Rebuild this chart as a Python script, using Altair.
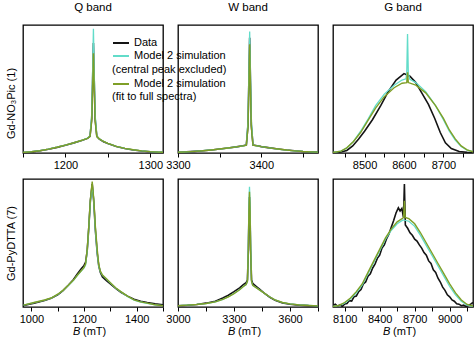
import altair as alt
import pandas as pd

FONT = "Liberation Sans"
C_DATA = "#141414"
C_EXCL = "#62dcc9"
C_FULL = "#7f9f27"

# ---------------- Top row: Gd-NO3Pic (1) ----------------
# Q band
tq_B = [1150, 1160, 1170, 1180, 1190, 1200, 1210, 1220, 1226, 1229, 1231, 1232, 1233,
        1234, 1235, 1237, 1240, 1245, 1250, 1260, 1270, 1280, 1290, 1300, 1310, 1315]
tq_data = [0.004, 0.009, 0.017, 0.029, 0.044, 0.061, 0.079, 0.099, 0.114, 0.13, 0.27, 0.55, 0.86,
           0.55, 0.27, 0.13, 0.108, 0.088, 0.074, 0.051, 0.035, 0.024, 0.016, 0.01, 0.006, 0.005]
tq_excl = [0.005, 0.01, 0.018, 0.03, 0.045, 0.062, 0.08, 0.1, 0.116, 0.132, 0.3, 0.62, 0.97,
           0.62, 0.3, 0.132, 0.11, 0.09, 0.075, 0.052, 0.036, 0.025, 0.017, 0.011, 0.007, 0.006]
tq_full = [0.005, 0.01, 0.018, 0.03, 0.045, 0.062, 0.08, 0.1, 0.115, 0.13, 0.25, 0.5, 0.78,
           0.5, 0.25, 0.13, 0.11, 0.09, 0.075, 0.052, 0.036, 0.025, 0.017, 0.011, 0.007, 0.006]

# W band
tw_B = [3300, 3310, 3320, 3330, 3340, 3350, 3360, 3370, 3378, 3382, 3384, 3385, 3386, 3387,
        3388, 3390, 3395, 3400, 3410, 3420, 3430, 3440, 3450, 3460, 3468]
tw_data = [0.006, 0.009, 0.013, 0.018, 0.024, 0.031, 0.039, 0.048, 0.056, 0.062, 0.22, 0.55, 0.9, 0.55,
           0.22, 0.062, 0.056, 0.05, 0.04, 0.031, 0.023, 0.017, 0.012, 0.009, 0.007]
tw_excl = [0.006, 0.009, 0.013, 0.018, 0.024, 0.031, 0.039, 0.048, 0.056, 0.062, 0.25, 0.6, 0.95, 0.6,
           0.25, 0.062, 0.056, 0.05, 0.04, 0.031, 0.023, 0.017, 0.012, 0.009, 0.007]
tw_full = [0.006, 0.009, 0.013, 0.018, 0.024, 0.031, 0.039, 0.048, 0.056, 0.062, 0.2, 0.5, 0.85, 0.5,
           0.2, 0.062, 0.056, 0.05, 0.04, 0.031, 0.023, 0.017, 0.012, 0.009, 0.007]

# G band
tg_B_data = [8420, 8440, 8455, 8470, 8485, 8500, 8520, 8541, 8560, 8580, 8600, 8615, 8630, 8645,
             8662, 8678, 8692, 8705, 8720, 8740, 8760, 8775]
tg_data = [0.003, 0.008, 0.02, 0.055, 0.11, 0.17, 0.26, 0.37, 0.48, 0.57, 0.62, 0.60, 0.55, 0.47,
           0.38, 0.27, 0.16, 0.08, 0.035, 0.012, 0.005, 0.003]
tg_B_excl = [8420, 8440, 8455, 8472, 8490, 8510, 8528, 8550, 8575, 8595, 8605, 8607, 8609, 8611,
             8615, 8630, 8655, 8680, 8700, 8715, 8730, 8745, 8760, 8775]
tg_excl = [0.004, 0.014, 0.04, 0.09, 0.17, 0.27, 0.37, 0.46, 0.53, 0.57, 0.58, 0.62, 0.93, 0.62,
           0.575, 0.55, 0.48, 0.37, 0.26, 0.17, 0.1, 0.05, 0.022, 0.01]
tg_B_full = [8420, 8440, 8455, 8472, 8490, 8510, 8528, 8550, 8575, 8595, 8607, 8609, 8611, 8630,
             8655, 8680, 8700, 8715, 8730, 8745, 8760, 8775]
tg_full = [0.004, 0.015, 0.04, 0.09, 0.16, 0.26, 0.35, 0.44, 0.51, 0.545, 0.55, 0.63, 0.55, 0.53,
           0.47, 0.37, 0.27, 0.18, 0.11, 0.055, 0.025, 0.01]

# ---------------- Bottom row: Gd-PyDTTA (7) ----------------
bq_B = [970, 1010, 1050, 1075, 1100, 1120, 1140, 1160, 1175, 1190, 1200, 1206, 1212, 1218, 1224, 1231,
        1237, 1243, 1250, 1256, 1262, 1270, 1285, 1300, 1320, 1340, 1365, 1390, 1415, 1440, 1470, 1500]
bq_data = [0.012, 0.03, 0.05, 0.068, 0.095, 0.128, 0.17, 0.215, 0.26, 0.3, 0.325, 0.35, 0.44, 0.62, 0.83, 0.96,
           0.82, 0.6, 0.42, 0.32, 0.27, 0.235, 0.205, 0.18, 0.145, 0.115, 0.085, 0.06, 0.045, 0.035, 0.025, 0.018]
bq_excl = [0.015, 0.034, 0.054, 0.069, 0.098, 0.128, 0.168, 0.208, 0.248, 0.283, 0.305, 0.33, 0.44, 0.62, 0.82, 0.95,
           0.82, 0.6, 0.42, 0.32, 0.275, 0.248, 0.218, 0.188, 0.148, 0.118, 0.083, 0.054, 0.039, 0.029, 0.017, 0.01]
bq_full = [0.015, 0.035, 0.055, 0.07, 0.1, 0.13, 0.17, 0.21, 0.25, 0.285, 0.31, 0.34, 0.45, 0.63, 0.84, 0.98,
           0.84, 0.63, 0.45, 0.33, 0.28, 0.25, 0.22, 0.19, 0.15, 0.12, 0.085, 0.055, 0.04, 0.03, 0.018, 0.01]

bw_B = [3000, 3050, 3100, 3150, 3200, 3240, 3270, 3300, 3330, 3350, 3365, 3372, 3377, 3380, 3383,
        3386, 3389, 3394, 3400, 3420, 3440, 3460, 3490, 3520, 3560, 3600, 3650, 3700, 3750]
bw_data = [0.01, 0.014, 0.02, 0.03, 0.045, 0.07, 0.092, 0.12, 0.15, 0.175, 0.19, 0.21, 0.45, 0.72, 0.86,
           0.72, 0.45, 0.21, 0.185, 0.16, 0.135, 0.11, 0.078, 0.052, 0.032, 0.022, 0.015, 0.011, 0.009]
bw_excl = [0.01, 0.015, 0.02, 0.027, 0.04, 0.06, 0.08, 0.105, 0.135, 0.16, 0.175, 0.2, 0.5, 0.8, 0.94,
           0.8, 0.5, 0.2, 0.17, 0.15, 0.13, 0.11, 0.08, 0.055, 0.035, 0.024, 0.016, 0.012, 0.009]
bw_full = [0.01, 0.015, 0.02, 0.027, 0.04, 0.06, 0.08, 0.105, 0.135, 0.16, 0.175, 0.2, 0.45, 0.75, 0.9,
           0.75, 0.45, 0.2, 0.17, 0.15, 0.13, 0.11, 0.08, 0.055, 0.035, 0.024, 0.016, 0.012, 0.009]

bg_B_data = [8000, 8020, 8040, 8060, 8080, 8100, 8120, 8140, 8160, 8180, 8200, 8220, 8240, 8260, 8280,
             8300, 8320, 8340, 8360, 8380, 8400, 8420, 8440, 8460, 8480, 8500, 8520, 8540, 8560,
             8575, 8590, 8604, 8612, 8620, 8640, 8660, 8680, 8700, 8720, 8740, 8760, 8780, 8800,
             8820, 8840, 8860, 8880, 8900, 8920, 8940, 8960, 8980, 9000, 9020, 9040, 9060, 9080,
             9100, 9120, 9140, 9160, 9180, 9200]
bg_data = [0.012, 0.022, 0.006, 0.018, 0.004, 0.024, 0.028, 0.05, 0.046, 0.08, 0.086, 0.12, 0.136, 0.18, 0.196,
           0.24, 0.26, 0.305, 0.335, 0.38, 0.405, 0.46, 0.485, 0.535, 0.57, 0.625, 0.675, 0.735, 0.775,
           0.75, 0.77, 0.70, 0.96, 0.64, 0.615, 0.58, 0.56, 0.53, 0.515, 0.485, 0.46, 0.425, 0.405,
           0.36, 0.34, 0.29, 0.27, 0.225, 0.195, 0.155, 0.13, 0.095, 0.08, 0.055, 0.045, 0.025, 0.022,
           0.01, 0.014, 0.004, 0.012, 0.022, 0.035]
bg_B_excl = [8000, 8050, 8100, 8150, 8200, 8250, 8300, 8350, 8400, 8450, 8500, 8550, 8600, 8650,
             8700, 8750, 8800, 8850, 8900, 8950, 9000, 9050, 9100, 9150, 9200]
bg_excl = [0.005, 0.01, 0.03, 0.065, 0.11, 0.17, 0.26, 0.35, 0.44, 0.53, 0.6, 0.65, 0.68, 0.67,
           0.63, 0.56, 0.48, 0.40, 0.32, 0.24, 0.16, 0.095, 0.045, 0.015, 0.005]
bg_B_full = [8000, 8050, 8100, 8150, 8200, 8250, 8300, 8350, 8400, 8450, 8500, 8550, 8600, 8605,
             8612, 8619, 8650, 8700, 8750, 8800, 8850, 8900, 8950, 9000, 9050, 9100, 9150, 9200]
bg_full = [0.005, 0.012, 0.035, 0.07, 0.12, 0.18, 0.27, 0.36, 0.45, 0.54, 0.61, 0.665, 0.695, 0.70,
           0.83, 0.70, 0.69, 0.65, 0.58, 0.50, 0.42, 0.34, 0.26, 0.18, 0.11, 0.055, 0.02, 0.008]

# axis settings (domains, tick values, labelled ticks)
col_titles = ["Q band", "W band", "G band"]
row_titles = ["Gd-NO\u2083Pic (1)", "Gd-PyDTTA (7)"]
legend_entries = ["Data", "Model 2 simulation", "(central peak excluded)",
                  "Model 2 simulation", "(fit to full spectra)"]

W, H = 140, 128


def df(B, v):
    return pd.DataFrame({"B": B, "v": v})


def panel(curves, xdom, ticks, labels, col_title="", row_title="", row_title_y=0,
          bottom=False, legend=False):
    x = alt.X("B:Q", scale=alt.Scale(domain=xdom, nice=False, zero=False),
              axis=alt.Axis(values=ticks, format="d", title="",
                            labelExpr="indexof(%s, datum.value) >= 0 ? datum.label : ''" % str(labels)))
    if row_title:
        ax_kw = dict(labels=False, ticks=False, domain=False, grid=False, title=row_title,
                     titleFontSize=11, titleFont=FONT, titleFontWeight="normal",
                     titlePadding=7, titleColor="black")
        if row_title_y:
            ax_kw["titleY"] = row_title_y
        y = alt.Y("v:Q", scale=alt.Scale(domain=[0, 1], nice=False), axis=alt.Axis(**ax_kw))
    else:
        y = alt.Y("v:Q", scale=alt.Scale(domain=[0, 1], nice=False), axis=None)

    layers = []
    for d, color, sw in zip(curves, [C_DATA, C_EXCL, C_FULL], [1.6, 1.3, 1.4]):
        layers.append(alt.Chart(d).mark_line(color=color, strokeWidth=sw, clip=True).encode(x=x, y=y))

    if legend:
        ys = [18, 31, 45, 59, 72]
        cols = [C_DATA, C_EXCL, C_FULL]
        for yy, c in zip([ys[0], ys[1], ys[3]], cols):
            layers.append(alt.Chart(pd.DataFrame({"a": [0]})).mark_rule(color=c, strokeWidth=2).encode(
                x=alt.value(90), x2=alt.value(106), y=alt.value(yy)))
        for i, t in enumerate(legend_entries):
            xx = 89 if t.startswith("(") else 111
            layers.append(alt.Chart(pd.DataFrame({"t": [t]})).mark_text(
                align="left", baseline="middle", font=FONT, fontSize=11, color="black").encode(
                text="t:N", x=alt.value(xx), y=alt.value(ys[i])))
    if bottom:
        layers.append(alt.Chart(pd.DataFrame({"t": ["B"]})).mark_text(
            align="left", baseline="middle", font=FONT, fontSize=11, fontStyle="italic", color="black").encode(
            text="t:N", x=alt.value(50), y=alt.value(H + 25)))
        layers.append(alt.Chart(pd.DataFrame({"t": ["(mT)"]})).mark_text(
            align="left", baseline="middle", font=FONT, fontSize=11, color="black").encode(
            text="t:N", x=alt.value(60), y=alt.value(H + 25)))

    ch = alt.layer(*layers).properties(width=W, height=H)
    if col_title:
        ch = ch.properties(title=alt.TitleParams(text=col_title, fontSize=11.5, font=FONT,
                                                 fontWeight="normal", offset=12, anchor="middle",
                                                 color="black"))
    return ch


p1 = panel([df(tq_B, tq_data), df(tq_B, tq_excl), df(tq_B, tq_full)],
           [1150, 1315], [1150, 1200, 1250, 1300], [1200, 1300],
           col_title=col_titles[0], row_title=row_titles[0], row_title_y=78, legend=True)
p2 = panel([df(tw_B, tw_data), df(tw_B, tw_excl), df(tw_B, tw_full)],
           [3300, 3468], [3300, 3350, 3400, 3450], [3300, 3400], col_title=col_titles[1])
p3 = panel([df(tg_B_data, tg_data), df(tg_B_excl, tg_excl), df(tg_B_full, tg_full)],
           [8420, 8775], [8450, 8500, 8550, 8600, 8650, 8700, 8750], [8500, 8600, 8700],
           col_title=col_titles[2])
p4 = panel([df(bq_B, bq_data), df(bq_B, bq_excl), df(bq_B, bq_full)],
           [968, 1500], [1000, 1100, 1200, 1300, 1400, 1500], [1000, 1200, 1400],
           row_title=row_titles[1], bottom=True)
p5 = panel([df(bw_B, bw_data), df(bw_B, bw_excl), df(bw_B, bw_full)],
           [3000, 3750], [3000, 3150, 3300, 3450, 3600, 3750], [3000, 3300, 3600], bottom=True)
p6 = panel([df(bg_B_data, bg_data), df(bg_B_excl, bg_excl), df(bg_B_full, bg_full)],
           [8000, 9200], [8100, 8250, 8400, 8550, 8700, 8850, 9000, 9150], [8100, 8400, 8700, 9000],
           bottom=True)

chart = alt.concat(p1, p2, p3, p4, p5, p6, columns=3,
                   spacing={"row": 26, "column": 15}, bounds="flush").properties(
    padding={"left": 4, "top": 0, "right": 0, "bottom": 0},
    background="white",
).configure_view(
    stroke="black", strokeWidth=1.3
).configure_axis(
    tickSize=4, tickColor="black", tickWidth=1, labelFontSize=11, labelFont=FONT,
    labelColor="black", labelPadding=2, domain=False, grid=False,
    labelFlush=False, labelBound=False, labelOverlap=False
)

chart.save("out.html", embed_options={"renderer": "svg", "actions": False})
